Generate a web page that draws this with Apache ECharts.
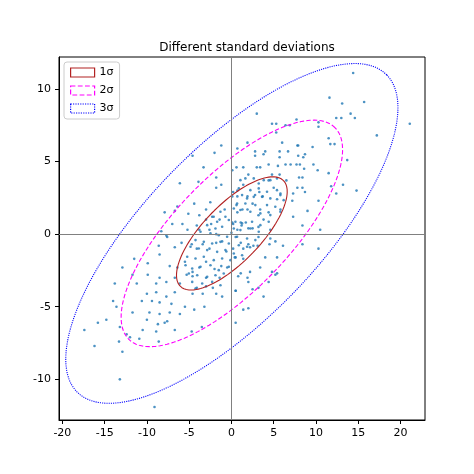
<!DOCTYPE html><html><head><meta charset="utf-8">
<script src="https://cdn.jsdelivr.net/npm/echarts@6/dist/echarts.min.js"></script>
<style>html,body{margin:0;background:#fff}#c{width:474px;height:474px}</style></head><body><div id="c"></div><script>
const xTicks=[-20,-15,-10,-5,0,5,10,15,20];
const yTicks=[-10,-5,0,5,10];
const pointsX=[14.4,11.6,13.1,15.7,3.0,12.4,13.0,14.1,14.6,21.1,17.2,10.3,10.3,7.7,4.8,5.3,6.4,6.9,5.3,1.9,0.7,11.5,11.7,12.2,7.8,7.9,9.6,6.0,2.8,3.8,4.0,5.7,6.7,8.7,2.8,5.7,7.9,8.5,13.7,0.6,1.4,3.0,3.4,4.4,5.5,6.4,7.0,7.7,8.1,9.7,8.6,10.2,11.5,2.0,4.8,5.7,4.4,8.0,8.4,6.5,1.4,5.0,7.8,8.4,11.8,13.2,0.2,3.3,3.7,5.8,7.3,8.7,12.4,14.8,0.7,1.9,2.8,5.4,7.2,10.3,0.6,2.5,1.3,1.9,0.7,3.4,4.4,5.8,3.2,3.8,9.0,7.3,1.1,1.7,0.2,3.2,4.6,10.5,8.4,2.0,2.5,0.7,
-1.2,-2.0,-4.6,-3.3,0.1,-1.8,-6.1,-3.9,-1.2,-1.8,0.7,-6.4,-4.4,-2.5,0.1,-7.9,-6.7,-5.1,-3.8,-3.0,-2.1,-1.4,-0.8,-3.0,-2.4,0.1,-7.0,-5.8,-4.1,-5.2,-3.8,-2.6,-8.3,-7.6,-1.8,0,1.2,
-7.7,-8.6,-6.7,-8.5,-5.9,-4.7,-4.1,-3.4,-2.6,-1.8,-1.1,-0.6,0.4,-11.5,-12.9,-9.9,-7.3,-6.4,-5.5,-4.6,-3.8,-3.0,-2.0,-1.2,-0.5,-11.7,-9.9,-8.5,-6.7,-5.3,-4.6,-3.0,-1.4,-13.8,-11.2,-8.9,-7.7,-6.1,-4.1,-3.0,-2.2,-4.6,-3.4,-1.8,-1.1,0.5,-10.0,-8.9,-7.7,-6.7,-14.0,-10.6,-9.4,-8.5,-7.1,-5.5,-4.4,-3.2,-13.6,-11.7,-9.7,-8.5,-7.3,-6.1,-10.0,-8.7,-7.9,-7.6,-6.7,-4.7,-3.5,-15.8,-14.8,-17.4,-13.2,-10.5,-8.9,-12.4,-12.0,-10.9,-13.3,-8.6,-16.2,-12.9,-13.2,-9.1,
0.5,1.1,2.0,2.6,3.2,4.6,5.2,0.2,1.4,2.2,3.1,4.5,6.1,8.4,10.3,0.5,1.4,4.0,5.4,3.4,2.2,1.1,0.8,4.8,5.2,5.4,1.9,2.0,4.4,2.5,3.2,0.5,3.8,2.0,1.4,0.5,
1.06,1.65,2.64,3.23,3.82,4.60,5.39,0.87,2.24,3.23,4.21,5.39,5.79,6.18,1.26,1.85,2.64,3.62,4.60,0.67,1.65,2.83,4.21,5.19,0.28,1.06,2.24,3.42,4.60,5.79,-1.30,-2.28,-0.71,-1.69,-0.31,0.47,1.26,2.44,3.42,4.41,-2.87,-1.89,-1.10,0.28,1.06,2.24,3.23,-3.66,-2.48,-1.50,-0.51,0.67,1.85,2.83,-4.25,-3.27,-2.28,-1.30,-0.31,0.87,1.85,-4.84,-3.86,-2.87,-1.69,-0.71,0.28,1.26,-5.23,-4.25,-3.27,-2.09,-1.10,-0.12,-5.43,-4.64,-3.66,-2.48,-1.50,-0.31,-5.04,-4.05,-2.87,-1.89,-0.91,-4.64,-3.46,-2.28,-1.30,-4.25];
const pointsY=[11.1,9.4,9.0,9.1,8.3,8.0,8.0,8.3,8.0,7.6,6.8,7.7,7.4,7.9,7.6,7.6,7.5,7.5,7.0,6.3,5.9,6.6,6.2,6.2,6.1,6.1,6.0,6.3,5.7,5.5,5.7,5.7,5.7,5.5,5.4,5.3,5.4,5.3,5.1,4.6,4.6,4.6,4.6,4.8,4.7,4.8,4.8,4.8,4.8,4.8,4.5,4.4,4.2,4.1,4.1,4.1,3.7,3.9,3.9,3.7,3.4,3.2,3.2,3.2,3.3,3.4,2.9,2.9,2.6,2.8,2.8,2.9,2.8,3.0,2.6,2.6,2.7,2.4,2.3,2.3,2.0,2.1,1.7,1.7,1.5,1.7,1.5,1.7,1.3,1.0,1.6,1.2,0.8,0.8,0.7,0.5,0.3,0.3,0.6,0.4,0.4,0.3,
6.1,5.6,5.4,4.6,4.4,3.9,3.5,3.6,3.4,3.2,3.0,1.9,2.1,2.2,2.6,1.5,1.6,1.4,1.3,1.7,1.2,1.0,1.7,1.0,0.7,0.8,0.7,0.7,0.6,0.3,0.3,0.3,0.2,-0.2,0.0,0.1,0.6,
-0.1,-0.8,-0.9,-1.4,-0.6,-0.7,-1.0,-0.7,-1.0,-0.6,-0.5,-1.2,-1.6,-1.7,-2.3,-2.0,-2.2,-2.3,-1.9,-2.6,-2.3,-1.9,-2.4,-2.2,-2.3,-2.8,-2.8,-3.0,-3.0,-2.8,-2.9,-3.0,-3.0,-3.4,-3.4,-3.4,-3.3,-3.4,-3.7,-3.6,-3.7,-4.1,-4.1,-4.1,-4.3,-3.9,-4.1,-4.0,-4.3,-4.0,-4.6,-4.6,-4.6,-4.7,-4.8,-5.0,-5.2,-5.0,-5.0,-5.4,-5.4,-5.5,-5.4,-5.5,-5.9,-6.2,-6.1,-6.0,-6.6,-6.7,-6.4,-6.1,-5.9,-6.6,-6.4,-6.6,-6.7,-6.9,-7.1,-7.2,-7.4,-7.4,-7.7,-8.1,-10.0,-11.9,
-0.2,-0.6,-0.7,-0.8,-0.2,-0.3,-0.5,-1.0,-1.0,-0.9,-0.8,-0.7,-0.8,-0.7,-1.0,-1.6,-1.7,-1.6,-1.6,-2.3,-2.6,-2.7,-2.9,-2.6,-2.8,-2.7,-3.0,-3.3,-3.3,-3.8,-3.7,-3.9,-4.3,-5.1,-5.2,-6.1,
3.72,3.84,3.84,3.49,3.72,3.72,3.84,3.15,3.03,3.15,2.92,3.03,2.69,2.34,2.69,2.46,2.57,2.57,2.46,2.11,2.11,2.00,2.00,1.89,1.77,1.66,1.54,1.43,1.31,1.54,1.54,1.20,1.20,0.85,0.97,0.85,0.74,0.85,0.62,0.85,0.62,0.39,0.51,0.39,0.28,0.39,0.16,0.16,0.05,-0.07,-0.18,-0.18,-0.30,-0.41,-0.41,-0.53,-0.64,-0.53,-0.64,-0.76,-0.87,-0.87,-0.99,-1.10,-1.22,-1.10,-1.33,-1.45,-1.56,-1.68,-1.56,-1.79,-1.68,-1.79,-2.14,-2.37,-2.25,-2.14,-2.48,-2.25,-2.71,-2.83,-2.94,-2.83,-2.71,-3.29,-3.40,-3.29,-3.52,-3.75];
// ellipse parameters: centre, std devs, correlation, n-sigma
const ellCenter=[0.05,0.05];
const ellStd=[6.55,3.9];
const ellCorr=0.74;
const ellNames=['1σ','2σ','3σ'];
const ellN=[1,2,3];
function ellipse(n){const rx=Math.sqrt(1+ellCorr),ry=Math.sqrt(1-ellCorr),out=[];
 for(let i=0;i<=240;i++){const t=i/240*2*Math.PI,c=Math.cos(t),s=Math.sin(t);
  out.push([ellCenter[0]+n*ellStd[0]*(rx*c-ry*s)/Math.SQRT2, ellCenter[1]+n*ellStd[1]*(rx*c+ry*s)/Math.SQRT2]);}
 return out;}
const styles=[{color:'#b22222',type:'solid'},{color:'#ff00ff',type:'dashed'},{color:'#0000ff',type:'dotted'}];
const ch=echarts.init(document.getElementById('c'));
const axisCommon={axisLine:{onZero:false,lineStyle:{color:'#000'}},splitLine:{show:false},axisTick:{length:4,lineStyle:{color:'#000'}},axisLabel:{color:'#000',fontSize:11,fontFamily:'DejaVu Sans'}};
ch.setOption({animation:false,
 title:{text:'Different standard deviations',left:242,top:37,textAlign:'center',textStyle:{fontSize:12,fontWeight:'normal',color:'#000',fontFamily:'DejaVu Sans'}},
 grid:{left:59,right:49,top:57,bottom:54,show:true,borderColor:'#000',borderWidth:1},
 legend:{left:64,top:62,orient:'vertical',itemWidth:24,itemHeight:9,itemGap:7,padding:[5,6],borderColor:'#ccc',borderWidth:1,borderRadius:3,
  textStyle:{fontSize:11,fontFamily:'DejaVu Sans',color:'#000'},
  data:ellNames.map((n,i)=>({name:n,icon:'rect',itemStyle:{color:'rgba(0,0,0,0)',borderColor:styles[i].color,borderWidth:1.2,borderType:styles[i].type}}))},
 xAxis:{type:'value',min:-20.4,max:22.9,...axisCommon,axisTick:{...axisCommon.axisTick,customValues:xTicks},axisLabel:{...axisCommon.axisLabel,customValues:xTicks}},
 yAxis:{type:'value',min:-12.8,max:12.2,...axisCommon,axisTick:{...axisCommon.axisTick,customValues:yTicks},axisLabel:{...axisCommon.axisLabel,customValues:yTicks}},
 series:[{type:'scatter',name:'pts',data:pointsX.map((x,i)=>[x,pointsY[i]]),symbolSize:2.6,itemStyle:{color:'#1f77b4'},z:3,
   markLine:{silent:true,symbol:'none',label:{show:false},lineStyle:{color:'#808080',width:1,type:'solid'},data:[{xAxis:0},{yAxis:0}]}},
  ...ellN.map((n,i)=>({type:'line',name:ellNames[i],data:ellipse(n),showSymbol:false,smooth:false,z:4,
   lineStyle:{color:styles[i].color,width:1.1,type:styles[i].type},itemStyle:{color:styles[i].color}}))]
});
</script></body></html>
